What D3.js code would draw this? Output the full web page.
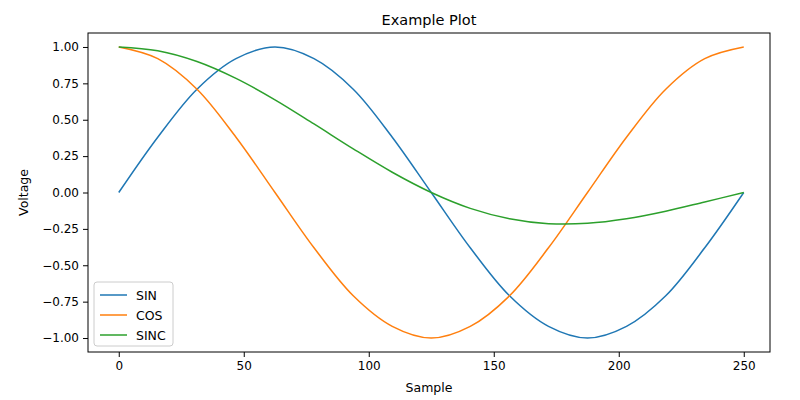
<!DOCTYPE html>
<html><head><meta charset="utf-8">
<script src="https://cdn.jsdelivr.net/npm/d3@7"></script>
<style>body{margin:0;background:#fff}text{font-family:"DejaVu Sans",sans-serif}</style>
</head><body>
<svg id="chart" width="800" height="400"></svg>
<script>
// values, 17 points across the sample range
const samples = [0,15.6,31.3,46.9,62.5,78.1,93.8,109.4,125,140.6,156.3,171.9,187.5,203.1,218.8,234.4,250]
const sinVals = [0,0.38,0.71,0.92,1.00,0.92,0.71,0.38,0,-0.38,-0.71,-0.92,-1.00,-0.92,-0.71,-0.38,0]
const cosVals = [1.00,0.92,0.71,0.38,0,-0.38,-0.71,-0.92,-1.00,-0.92,-0.71,-0.38,0,0.38,0.71,0.92,1.00]
const sincVals = [1.00,0.974,0.90,0.784,0.637,0.471,0.30,0.139,0,-0.109,-0.18,-0.214,-0.212,-0.181,-0.129,-0.065,0]
const seriesNames = ['SIN','COS','SINC']
const colors = ['#1f77b4','#ff7f0e','#2ca02c']
const xTicks = [0,50,100,150,200,250]
const yTicks = [1,0.75,0.5,0.25,0,-0.25,-0.5,-0.75,-1]

const L = 88, R = 770, T = 33, B = 352
const svg = d3.select('#chart')
const x = d3.scaleLinear().domain([-12.3, 260.5]).range([L, R])
const y = d3.scaleLinear().domain([-1.096, 1.096]).range([B, T])

const line = d3.line().x((d, i) => x(samples[i])).y(d => y(d)).curve(d3.curveCatmullRom)
svg.append('clipPath').attr('id','c').append('rect')
  .attr('x', L).attr('y', T).attr('width', R - L).attr('height', B - T)

const g = svg.append('g').attr('clip-path','url(#c)')
;[sinVals, cosVals, sincVals].forEach((vals, i) => {
  g.append('path').attr('d', line(vals)).attr('fill','none')
    .attr('stroke', colors[i]).attr('stroke-width', 1.5)
})

svg.append('g').attr('transform', `translate(0,${B})`)
  .call(d3.axisBottom(x).tickValues(xTicks).tickSize(5).tickPadding(4))
  .call(a => a.select('.domain').remove())
  .selectAll('text').attr('font-size', 12).attr('fill','#000')
svg.append('g').attr('transform', `translate(${L},0)`)
  .call(d3.axisLeft(y).tickValues(yTicks).tickFormat(d3.format('.2f')).tickSize(5).tickPadding(4))
  .call(a => a.select('.domain').remove())
  .selectAll('text').attr('font-size', 12).attr('fill','#000')
svg.selectAll('.tick line').attr('stroke','#000')

svg.append('rect').attr('x', L).attr('y', T).attr('width', R - L).attr('height', B - T)
  .attr('fill','none').attr('stroke','#000').attr('stroke-width', 1)

svg.append('text').attr('x', (L + R) / 2).attr('y', 25).attr('text-anchor','middle')
  .attr('font-size', 14.5).text('Example Plot')
svg.append('text').attr('x', (L + R) / 2).attr('y', 392).attr('text-anchor','middle')
  .attr('font-size', 12.5).text('Sample')
svg.append('text').attr('transform', `translate(28,${(T + B) / 2}) rotate(-90)`)
  .attr('text-anchor','middle').attr('font-size', 12.5).text('Voltage')

const lg = svg.append('g').attr('transform', 'translate(94,282)')
lg.append('rect').attr('width', 79).attr('height', 64).attr('rx', 3)
  .attr('fill','#fff').attr('fill-opacity', 0.8).attr('stroke','#ccc')
seriesNames.forEach((n, i) => {
  const yy = 13 + i * 20
  lg.append('line').attr('x1', 6).attr('x2', 33).attr('y1', yy).attr('y2', yy)
    .attr('stroke', colors[i]).attr('stroke-width', 1.5)
  lg.append('text').attr('x', 42).attr('y', yy + 4.5).attr('font-size', 12.5).text(n)
})
</script>
</body></html>
